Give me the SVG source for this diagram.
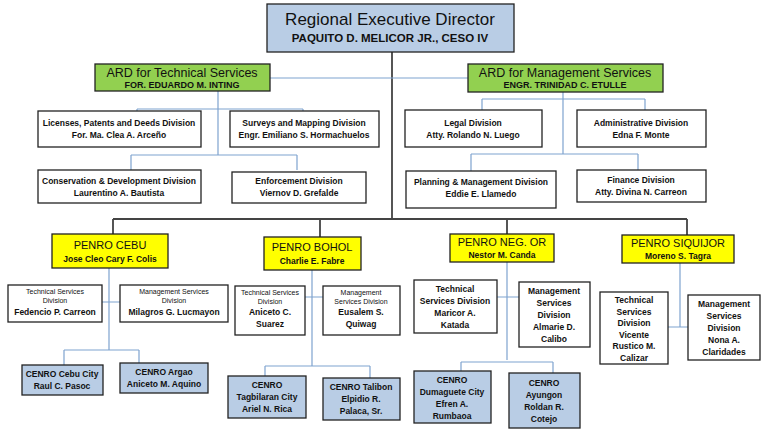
<svg xmlns="http://www.w3.org/2000/svg" width="768" height="436" viewBox="0 0 768 436">
<style>
text{font-family:"Liberation Sans",Arial,sans-serif;text-anchor:middle;fill:#111}
.b{fill:#fff;stroke:#222;stroke-width:1.3}
.g{fill:#92d050;stroke:#222;stroke-width:1.3}
.y{fill:#ffff00;stroke:#222;stroke-width:1.3}
.c{fill:#b9cde5;stroke:#222;stroke-width:1.3}
.t{font-size:8.5px;font-weight:bold}
.s{font-size:7px}
.p{font-size:11px}
.bl{stroke:#7fa3cf;stroke-width:1.2;fill:none}
.dk{stroke:#444;stroke-width:1.8;fill:none}
</style>
<g id="connectors">
<path class="dk" d="M392 52V219M113 219H687M113 219V234M320 219V237M507 219V234M687 219V235"/>
<path class="bl" d="M270 78H468M218 91V155M137 109H303M137 109V111M303 109V111M131 155H297M131 155V170M297 155V170"/>
<path class="bl" d="M563 92V154M482 99H645M482 99V110M645 99V110M471 154H638M471 154V171M638 154V171"/>
<path class="bl" d="M109 268V350M102 302H120M64 350H139M64 350V365M139 350V363"/>
<path class="bl" d="M312 270V366M305 297H323M265 366H370M265 366V376M370 366V378"/>
<path class="bl" d="M507 262V360M497 297H519M461 362H553M461 362V371M553 362V373"/>
<path class="bl" d="M680 263V327M668 327H688"/>
</g>
<g id="red"><rect x="267" y="4" width="247" height="48" class="c"/><text x="390" y="25" style="font-size:17px">Regional Executive Director</text><text x="390" y="42" style="font-size:11.5px;font-weight:bold">PAQUITO D. MELICOR JR., CESO IV</text></g>
<g id="ard-ts"><rect x="95" y="64" width="175" height="27" class="g"/><text x="182" y="77" style="font-size:12.5px">ARD for Technical Services</text><text x="182" y="88" style="font-size:9px;font-weight:bold">FOR. EDUARDO M. INTING</text></g>
<g id="ard-ms"><rect x="468" y="64" width="195" height="28" class="g"/><text x="565" y="77" style="font-size:12.5px">ARD for Management Services</text><text x="565" y="88" style="font-size:9px;font-weight:bold">ENGR. TRINIDAD C. ETULLE</text></g>
<g id="lpdd"><rect x="38" y="111" width="163" height="36" class="b"/><text x="119" y="126" class="t">Licenses, Patents and Deeds Division</text><text x="119" y="138" class="t">For. Ma. Clea A. Arceño</text></g>
<g id="smd"><rect x="230" y="111" width="149" height="36" class="b"/><text x="304" y="126" class="t">Surveys and Mapping Division</text><text x="304" y="138" class="t">Engr. Emiliano S. Hormachuelos</text></g>
<g id="cdd"><rect x="38" y="170" width="163" height="33" class="b"/><text x="119" y="184" class="t">Conservation &amp; Development Division</text><text x="119" y="196" class="t">Laurentino A. Bautista</text></g>
<g id="ed"><rect x="232" y="172" width="134" height="31" class="b"/><text x="299" y="184" class="t">Enforcement Division</text><text x="299" y="196" class="t">Viernov D. Grefalde</text></g>
<g id="legal"><rect x="405" y="110" width="137" height="37" class="b"/><text x="473" y="126" class="t">Legal Division</text><text x="473" y="138" class="t">Atty. Rolando N. Luego</text></g>
<g id="admin"><rect x="577" y="110" width="129" height="37" class="b"/><text x="641" y="126" class="t">Administrative Division</text><text x="641" y="138" class="t">Edna F. Monte</text></g>
<g id="pmd"><rect x="406" y="171" width="150" height="37" class="b"/><text x="481" y="185" class="t">Planning &amp; Management Division</text><text x="481" y="197" class="t">Eddie E. Llamedo</text></g>
<g id="fin"><rect x="577" y="170" width="129" height="32" class="b"/><text x="641" y="183" class="t">Finance Division</text><text x="641" y="195" class="t">Atty. Divina N. Carreon</text></g>
<g id="penro-cebu"><rect x="52" y="234" width="116" height="34" class="y"/><text x="110" y="249" class="p">PENRO CEBU</text><text x="110" y="262" class="t">Jose Cleo Cary F. Colis</text></g>
<g id="penro-bohol"><rect x="264" y="237" width="97" height="33" class="y"/><text x="312" y="251" class="p">PENRO BOHOL</text><text x="312" y="264" class="t">Charlie E. Fabre</text></g>
<g id="penro-negor"><rect x="450" y="234" width="104" height="28" class="y"/><text x="502" y="246" class="p">PENRO NEG. OR</text><text x="502" y="258" class="t">Nestor M. Canda</text></g>
<g id="penro-siq"><rect x="622" y="235" width="112" height="28" class="y"/><text x="678" y="247" class="p">PENRO SIQUIJOR</text><text x="678" y="259" class="t">Moreno S. Tagra</text></g>
<g id="cebu-ts"><rect x="8" y="285" width="94" height="37" class="b"/><text x="55" y="294" class="s">Technical Services</text><text x="55" y="303" class="s">Division</text><text x="55" y="315" class="t">Fedencio P. Carreon</text></g>
<g id="cebu-ms"><rect x="120" y="285" width="108" height="37" class="b"/><text x="174" y="294" class="s">Management Services</text><text x="174" y="303" class="s">Division</text><text x="174" y="315" class="t">Milagros G. Lucmayon</text></g>
<g id="cenro-cebu"><rect x="22" y="365" width="81" height="30" class="c"/><text x="62" y="377" class="t">CENRO Cebu City</text><text x="62" y="389" class="t">Raul C. Pasoc</text></g>
<g id="cenro-argao"><rect x="120" y="363" width="88" height="30" class="c"/><text x="164" y="375" class="t">CENRO Argao</text><text x="164" y="387" class="t">Aniceto M. Aquino</text></g>
<g id="bohol-ts"><rect x="235" y="286" width="70" height="49" class="b"/><text x="270" y="295" class="s">Technical Services</text><text x="270" y="304" class="s">Division</text><text x="270" y="315" class="t">Aniceto C.</text><text x="270" y="327" class="t">Suarez</text></g>
<g id="bohol-ms"><rect x="323" y="286" width="77" height="49" class="b"/><text x="361" y="295" class="s">Management</text><text x="361" y="304" class="s">Services Division</text><text x="361" y="315" class="t">Eusalem S.</text><text x="361" y="327" class="t">Quiwag</text></g>
<g id="cenro-tag"><rect x="228" y="376" width="78" height="42" class="c"/><text x="267" y="388" class="t">CENRO</text><text x="267" y="400" class="t">Tagbilaran City</text><text x="267" y="412" class="t">Ariel N. Rica</text></g>
<g id="cenro-tal"><rect x="323" y="378" width="77" height="42" class="c"/><text x="361" y="390" class="t">CENRO Talibon</text><text x="361" y="402" class="t">Elpidio R.</text><text x="361" y="414" class="t">Palaca, Sr.</text></g>
<g id="negor-ts"><rect x="414" y="280" width="83" height="53" class="b"/><text x="455" y="292" class="t">Technical</text><text x="455" y="304" class="t">Services Division</text><text x="455" y="316" class="t">Maricor A.</text><text x="455" y="328" class="t">Katada</text></g>
<g id="negor-ms"><rect x="519" y="282" width="71" height="65" class="b"/><text x="554" y="294" class="t">Management</text><text x="554" y="306" class="t">Services</text><text x="554" y="318" class="t">Division</text><text x="554" y="330" class="t">Almarie D.</text><text x="554" y="342" class="t">Calibo</text></g>
<g id="cenro-dum"><rect x="414" y="371" width="77" height="52" class="c"/><text x="452" y="383" class="t">CENRO</text><text x="452" y="395" class="t">Dumaguete City</text><text x="452" y="407" class="t">Efren A.</text><text x="452" y="419" class="t">Rumbaoa</text></g>
<g id="cenro-ayu"><rect x="509" y="373" width="71" height="55" class="c"/><text x="544" y="386" class="t">CENRO</text><text x="544" y="398" class="t">Ayungon</text><text x="544" y="410" class="t">Roldan R.</text><text x="544" y="422" class="t">Cotejo</text></g>
<g id="siq-ts"><rect x="600" y="292" width="68" height="72" class="b"/><text x="634" y="303" class="t">Technical</text><text x="634" y="314.5" class="t">Services</text><text x="634" y="326" class="t">Division</text><text x="634" y="337.5" class="t">Vicente</text><text x="634" y="349" class="t">Rustico M.</text><text x="634" y="360.5" class="t">Calizar</text></g>
<g id="siq-ms"><rect x="688" y="295" width="72" height="65" class="b"/><text x="724" y="307" class="t">Management</text><text x="724" y="319" class="t">Services</text><text x="724" y="331" class="t">Division</text><text x="724" y="343" class="t">Nona A.</text><text x="724" y="355" class="t">Claridades</text></g>
</svg>
